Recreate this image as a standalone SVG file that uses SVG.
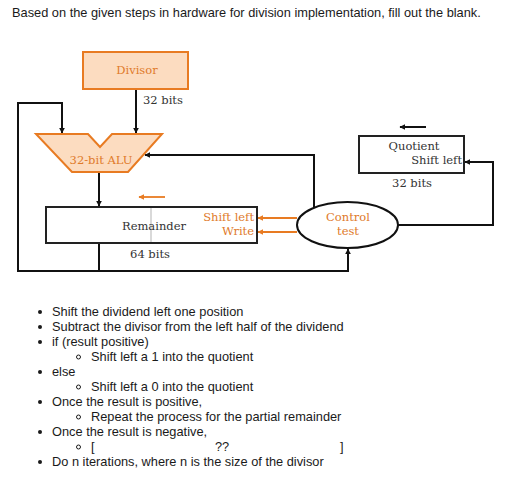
<svg xmlns="http://www.w3.org/2000/svg" width="507" height="479" viewBox="0 0 507 479">
<defs>
<style>
.lbl{font-family:"DejaVu Serif","Liberation Serif",serif;font-size:11.5px;fill:#333}
.olbl{font-family:"DejaVu Serif","Liberation Serif",serif;font-size:11.5px;fill:#E07A2A}
.body{font-family:"Liberation Sans",Arial,sans-serif;font-size:12.8px;fill:#1a1a1a}
.ln{fill:none;stroke:#111;stroke-width:2}
.oln{fill:none;stroke:#E87B22;stroke-width:1.8}
.obox{fill:#FCDCC0;stroke:#E87B22;stroke-width:2}
.box{fill:#fff;stroke:#222;stroke-width:2}
</style>
<marker id="ah" viewBox="0 0 10 10" refX="9" refY="5" markerWidth="6" markerHeight="6" markerUnits="userSpaceOnUse" orient="auto"><path d="M0,0L10,5L0,10z" fill="#111"/></marker>
<marker id="oah" viewBox="0 0 10 10" refX="9" refY="5" markerWidth="6" markerHeight="6" markerUnits="userSpaceOnUse" orient="auto"><path d="M0,0L10,5L0,10z" fill="#E87B22"/></marker>
</defs>
<rect width="507" height="479" fill="#fff"/>
<text class="body" x="12" y="17">Based on the given steps in hardware for division implementation, fill out the blank.</text>

<g id="connectors">
<path class="ln" d="M136,89V133" marker-end="url(#ah)"/>
<path class="ln" d="M99,243V271H18V103H62V133" marker-end="url(#ah)"/>
<path class="ln" d="M99,172V206" marker-end="url(#ah)"/>
<path class="ln" d="M99,271H348V249" marker-end="url(#ah)"/>
<path class="ln" d="M314,208V155H145" marker-end="url(#ah)"/>
<path class="ln" d="M398,225H493V162H465" marker-end="url(#ah)"/>
<path class="oln" d="M297,218H258" marker-end="url(#oah)"/>
<path class="oln" d="M297,232H258" marker-end="url(#oah)"/>
<path class="oln" d="M165,197H139" marker-end="url(#oah)"/>
<path class="ln" d="M426,127H400" marker-end="url(#ah)"/>
</g>

<g id="divisor">
<rect class="obox" x="83" y="52" width="105" height="37"/>
<text class="olbl" x="137" y="74" text-anchor="middle">Divisor</text>
<text class="lbl" x="143" y="104">32 bits</text>
</g>

<g id="alu">
<polygon class="obox" points="36,134 88,134 100,147 112,134 162,134 128,172 72,172"/>
<text class="olbl" x="101" y="164" text-anchor="middle">32-bit ALU</text>
</g>

<g id="remainder">
<rect class="box" x="46" y="207" width="211" height="36"/>
<line x1="151" y1="208" x2="151" y2="242" stroke="#ccc" stroke-width="1.5"/>
<text class="lbl" x="154" y="230" text-anchor="middle">Remainder</text>
<text class="olbl" x="254" y="221" text-anchor="end">Shift left</text>
<text class="olbl" x="254" y="235" text-anchor="end">Write</text>
<text class="lbl" x="150" y="258" text-anchor="middle">64 bits</text>
</g>

<g id="control">
<ellipse cx="347.5" cy="225" rx="50.5" ry="23" fill="#fff" stroke="#111" stroke-width="2"/>
<text class="olbl" x="348" y="221" text-anchor="middle">Control</text>
<text class="olbl" x="348" y="235" text-anchor="middle">test</text>
</g>

<g id="quotient">
<rect class="box" x="359" y="136" width="105" height="37"/>
<text class="lbl" x="414" y="150" text-anchor="middle">Quotient</text>
<text class="lbl" x="462" y="164" text-anchor="end">Shift left</text>
<text class="lbl" x="412" y="187" text-anchor="middle">32 bits</text>
</g>

<g id="list">
<g fill="#1a1a1a">
<circle cx="40" cy="312" r="2"/>
<circle cx="40" cy="327" r="2"/>
<circle cx="40" cy="342" r="2"/>
<circle cx="40" cy="372" r="2"/>
<circle cx="40" cy="402" r="2"/>
<circle cx="40" cy="432" r="2"/>
<circle cx="40" cy="462" r="2"/>
</g>
<g fill="none" stroke="#1a1a1a" stroke-width="1">
<circle cx="78.5" cy="357" r="2"/>
<circle cx="78.5" cy="387" r="2"/>
<circle cx="78.5" cy="417" r="2"/>
<circle cx="78.5" cy="447" r="2"/>
</g>
<text class="body" x="52" y="316">Shift the dividend left one position</text>
<text class="body" x="52" y="331">Subtract the divisor from the left half of the dividend</text>
<text class="body" x="52" y="346">if (result positive)</text>
<text class="body" x="91" y="361">Shift left a 1 into the quotient</text>
<text class="body" x="52" y="376">else</text>
<text class="body" x="91" y="391">Shift left a 0 into the quotient</text>
<text class="body" x="52" y="406">Once the result is positive,</text>
<text class="body" x="91" y="421">Repeat the process for the partial remainder</text>
<text class="body" x="52" y="436">Once the result is negative,</text>
<text class="body" x="91" y="451">[</text>
<text class="body" x="215" y="451">??</text>
<text class="body" x="340" y="451">]</text>
<text class="body" x="52" y="466">Do n iterations, where n is the size of the divisor</text>
</g>
</svg>
